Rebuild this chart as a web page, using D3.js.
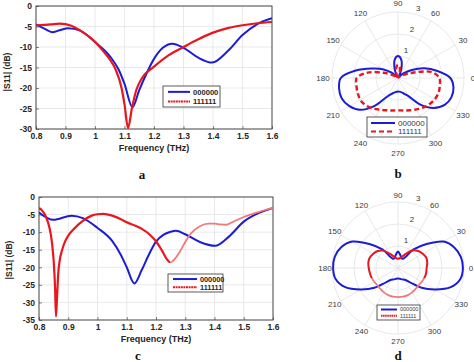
<!DOCTYPE html>
<html><head><meta charset="utf-8">
<script src="https://cdn.jsdelivr.net/npm/d3@7"></script>
<style>body{margin:0;background:#fff} svg{display:block}</style>
</head><body>
<svg id="fig" width="474" height="362"></svg>
<script>
// ---------- data ----------
const xTicks = [0.8, 0.9, 1.0, 1.1, 1.2, 1.3, 1.4, 1.5, 1.6];
const xTickLabels = ["0.8", "0.9", "1", "1.1", "1.2", "1.3", "1.4", "1.5", "1.6"];
const yTicksA = [0, -5, -10, -15, -20, -25, -30];
const yTicksC = [0, -5, -10, -15, -20, -25, -30, -35];
const seriesNames = ["000000", "111111"];

// panel a
const fA_blue = [0.80, 0.83, 0.855, 0.88, 0.91, 0.95, 1.00, 1.05, 1.08, 1.10, 1.127, 1.15, 1.17, 1.20, 1.23, 1.262, 1.30, 1.35, 1.397, 1.45, 1.50, 1.55, 1.60];
const sA_blue = [-4.5, -5.6, -6.4, -5.9, -5.4, -6.0, -8.8, -12.2, -15.5, -19.0, -24.7, -20.5, -17.2, -12.9, -10.2, -9.2, -10.2, -12.6, -13.8, -11.0, -7.1, -4.4, -3.0];
const fA_red = [0.80, 0.85, 0.88, 0.92, 0.95, 1.00, 1.03, 1.05, 1.07, 1.09, 1.10, 1.112, 1.125, 1.14, 1.16, 1.20, 1.25, 1.30, 1.35, 1.40, 1.45, 1.50, 1.55, 1.60];
const sA_red = [-4.7, -4.5, -4.3, -4.8, -6.0, -8.7, -11.2, -13.0, -15.5, -20.0, -24.0, -29.8, -25.0, -20.5, -17.5, -14.8, -12.0, -10.0, -8.1, -6.5, -5.4, -4.7, -4.2, -3.9];

// panel c
const fC_blue = [0.80, 0.849, 0.911, 0.95, 1.00, 1.05, 1.08, 1.10, 1.126, 1.15, 1.175, 1.20, 1.225, 1.25, 1.268, 1.30, 1.35, 1.402, 1.45, 1.50, 1.55, 1.60];
const sC_blue = [-4.4, -6.5, -5.3, -6.0, -8.8, -12.5, -16.5, -20.0, -24.6, -21.0, -16.5, -12.7, -10.8, -9.9, -9.6, -10.6, -12.8, -13.9, -11.2, -7.0, -4.6, -3.1];
const fC_red = [0.80, 0.81, 0.82, 0.83, 0.84, 0.845, 0.85, 0.855, 0.858, 0.862, 0.866, 0.87, 0.88, 0.89, 0.90, 0.92, 0.95, 0.98, 1.00, 1.02, 1.05, 1.08, 1.10, 1.13, 1.15, 1.18, 1.20, 1.22, 1.24, 1.25, 1.26, 1.28, 1.30, 1.32, 1.35, 1.38, 1.40, 1.42, 1.44, 1.46, 1.50, 1.55, 1.60];
const sC_red = [-3.1, -3.8, -5.0, -7.0, -10.5, -13.5, -18.0, -26.0, -34.0, -28.0, -21.5, -18.5, -14.8, -12.5, -11.0, -9.0, -6.8, -5.3, -4.9, -4.8, -5.3, -6.3, -7.2, -8.2, -9.0, -10.8, -12.6, -15.2, -18.0, -18.6, -18.0, -15.8, -12.8, -10.3, -8.3, -7.6, -7.6, -7.8, -7.9, -7.2, -5.7, -4.3, -3.1];

// polar patterns, angles 0..350 deg step 10
const polarAngles = d3.range(0, 360, 10);
const rTicks = [1, 2, 3];
const angleTicks = [0, 30, 60, 90, 120, 150, 180, 210, 240, 270, 300, 330];
const rB_blue = [2.38, 1.82, 1.28, 0.72, 0.32, 0.08, 0.12, 0.45, 0.85, 1.0, 0.85, 0.45, 0.12, 0.08, 0.38, 0.8, 1.25, 1.95, 2.6, 2.72, 2.72, 2.55, 2.25, 1.65, 0.97, 0.75, 0.65, 0.61, 0.64, 0.75, 0.95, 1.58, 2.12, 2.45, 2.58, 2.56];
const rB_red = [1.88, 1.55, 0.7, 0.25, 0.08, 0.03, 0.06, 0.2, 0.48, 0.6, 0.48, 0.2, 0.06, 0.03, 0.08, 0.25, 0.7, 1.4, 1.88, 1.92, 1.95, 1.98, 1.92, 1.8, 1.66, 1.56, 1.5, 1.47, 1.5, 1.56, 1.65, 1.76, 1.86, 1.93, 1.96, 1.93];
const rD_blue = [2.95, 2.9, 2.72, 2.4, 1.7, 1.1, 0.5, 0.47, 0.6, 0.75, 0.6, 0.47, 0.5, 1.1, 1.7, 2.4, 2.75, 2.92, 2.95, 2.88, 2.55, 1.95, 1.4, 0.85, 0.62, 0.55, 0.5, 0.48, 0.5, 0.55, 0.62, 0.85, 1.4, 1.95, 2.55, 2.88];
const rD_red = [1.3, 1.35, 1.37, 1.3, 1.2, 1.05, 0.75, 0.55, 0.45, 0.42, 0.45, 0.55, 0.75, 1.03, 1.2, 1.3, 1.37, 1.37, 1.33, 1.3, 1.28, 1.25, 1.22, 1.24, 1.28, 1.31, 1.32, 1.32, 1.32, 1.31, 1.28, 1.24, 1.22, 1.25, 1.28, 1.3];

// ---------- style ----------
const BLUE = "#1c1cd6", RED = "#e8161e", PINK = "#f07a7a";
const svg = d3.select("#fig");
const FONT = "'Liberation Sans', Arial, sans-serif";

function lineChart(o) {
  const x = d3.scaleLinear().domain([0.8, 1.6]).range([o.x0, o.x1]);
  const y = d3.scaleLinear().domain([o.ymin, 0]).range([o.y1, o.y0]);
  const g = svg.append("g");
  g.append("g").selectAll("line").data(xTicks).join("line")
    .attr("x1", d => x(d)).attr("x2", d => x(d)).attr("y1", o.y0).attr("y2", o.y1)
    .attr("stroke", "#e3e3e3").attr("stroke-width", 0.8);
  g.append("g").selectAll("line").data(o.yTicks).join("line")
    .attr("y1", d => y(d)).attr("y2", d => y(d)).attr("x1", o.x0).attr("x2", o.x1)
    .attr("stroke", "#e3e3e3").attr("stroke-width", 0.8);
  const ax = g.append("g").attr("transform", `translate(0,${o.y1})`)
    .call(d3.axisBottom(x).tickValues(xTicks).tickFormat((d, i) => xTickLabels[i]).tickSizeInner(-3).tickSizeOuter(0).tickPadding(4));
  const ay = g.append("g").attr("transform", `translate(${o.x0},0)`)
    .call(d3.axisLeft(y).tickValues(o.yTicks).tickFormat(d => d3.format("d")(d).replace("−", "-")).tickSizeInner(-3).tickSizeOuter(0).tickPadding(4));
  [ax, ay].forEach(a => {
    a.select(".domain").remove();
    a.selectAll("line").attr("stroke", "#333").attr("stroke-width", 0.6);
    a.selectAll("text").attr("font-family", FONT).attr("font-weight", "bold").attr("font-size", 8.5).attr("fill", "#262626");
  });
  g.append("rect").attr("x", o.x0).attr("y", o.y0).attr("width", o.x1 - o.x0).attr("height", o.y1 - o.y0)
    .attr("fill", "none").attr("stroke", "#3a3a3a").attr("stroke-width", 0.9);
  const cid = "clip" + o.id;
  svg.append("clipPath").attr("id", cid).append("rect").attr("x", o.x0).attr("y", o.y0 - 2).attr("width", o.x1 - o.x0).attr("height", o.y1 - o.y0 + 2);
  const line = d3.line().x(d => x(d[0])).y(d => y(d[1])).curve(d3.curveMonotoneX);
  const plot = g.append("g").attr("clip-path", `url(#${cid})`);
  plot.append("path").datum(d3.zip(o.fb, o.sb)).attr("d", line).attr("fill", "none").attr("stroke", BLUE).attr("stroke-width", 2);
  const redData = d3.zip(o.fr, o.sr);
  if (o.pinkFrom) {
    const xs = x(o.pinkFrom);
    svg.append("clipPath").attr("id", cid + "r1").append("rect").attr("x", 0).attr("y", 0).attr("width", xs).attr("height", 362);
    svg.append("clipPath").attr("id", cid + "r2").append("rect").attr("x", xs).attr("y", 0).attr("width", 474 - xs).attr("height", 362);
    plot.append("g").attr("clip-path", `url(#${cid}r1)`).append("path").datum(redData).attr("d", line)
      .attr("fill", "none").attr("stroke", RED).attr("stroke-width", 2.2);
    plot.append("g").attr("clip-path", `url(#${cid}r2)`).append("path").datum(redData).attr("d", line)
      .attr("fill", "none").attr("stroke", PINK).attr("stroke-width", 1.8);
  } else {
    plot.append("path").datum(redData).attr("d", line).attr("fill", "none").attr("stroke", RED).attr("stroke-width", 2.2);
  }
  svg.append("text").attr("x", (o.x0 + o.x1) / 2).attr("y", o.y1 + 22).attr("text-anchor", "middle")
    .attr("font-family", FONT).attr("font-weight", "bold").attr("font-size", 9).attr("fill", "#262626").text("Frequency (THz)");
  svg.append("text").attr("transform", `translate(${o.ylx},${o.yly}) rotate(-90)`).attr("text-anchor", "middle")
    .attr("font-family", FONT).attr("font-weight", "bold").attr("font-size", 8.5).attr("fill", "#262626").text("|S11| (dB)");
  const L = o.leg;
  svg.append("rect").attr("x", L.x).attr("y", L.y).attr("width", L.w).attr("height", L.h)
    .attr("fill", "#fff").attr("stroke", "#333").attr("stroke-width", 0.8);
  const rows = [[BLUE, 2, null], [RED, 2, "2,0.6"]];
  rows.forEach((r, i) => {
    const yy = L.y + L.h * (i === 0 ? 0.28 : 0.74);
    svg.append("line").attr("x1", L.x + 5).attr("x2", L.x + 5 + L.lw).attr("y1", yy).attr("y2", yy)
      .attr("stroke", r[0]).attr("stroke-width", r[1]).attr("stroke-dasharray", r[2]);
    svg.append("text").attr("x", L.x + 8 + L.lw).attr("y", yy).attr("dy", "0.35em")
      .attr("font-family", FONT).attr("font-weight", "bold").attr("font-size", L.fs).attr("fill", "#262626").text(seriesNames[i]);
  });
  svg.append("text").attr("x", o.subx).attr("y", o.suby).attr("text-anchor", "middle")
    .attr("font-family", "'Liberation Serif', 'Times New Roman', serif").attr("font-weight", "bold").attr("font-size", 13).attr("fill", "#111").text(o.sub);
}

lineChart({id: "a", x0: 36, x1: 272, y0: 6, y1: 129, ymin: -30, yTicks: yTicksA,
  fb: fA_blue, sb: sA_blue, fr: fA_red, sr: sA_red, ylx: 10, yly: 72,
  leg: {x: 163, y: 86, w: 57, h: 21, lw: 22, fs: 7.6}, sub: "a", subx: 142, suby: 179});
lineChart({id: "c", x0: 39, x1: 273, y0: 197, y1: 320, ymin: -35, yTicks: yTicksC,
  fb: fC_blue, sb: sC_blue, fr: fC_red, sr: sC_red, ylx: 12, yly: 260, pinkFrom: 1.248,
  leg: {x: 168, y: 274, w: 55, h: 18, lw: 24, fs: 7.3}, sub: "c", subx: 138, suby: 360});

function polar(o) {
  const R = 22;
  const g = svg.append("g").attr("transform", `translate(${o.cx},${o.cy})`);
  const gridC = "#e2e2e2";
  rTicks.forEach(r => g.append("circle").attr("r", r * R).attr("fill", "none").attr("stroke", gridC).attr("stroke-width", 0.8));
  angleTicks.forEach(a => {
    const t = a * Math.PI / 180;
    g.append("line").attr("x1", 0).attr("y1", 0).attr("x2", 3 * R * Math.cos(t)).attr("y2", -3 * R * Math.sin(t))
      .attr("stroke", gridC).attr("stroke-width", 0.8);
    g.append("text").attr("x", o.lr * Math.cos(t)).attr("y", -o.lr * Math.sin(t)).attr("dy", "0.35em").attr("text-anchor", "middle")
      .attr("font-family", FONT).attr("font-size", 8).attr("fill", "#3a3a3a").text(a);
  });
  rTicks.forEach(r => {
    const t = 74 * Math.PI / 180, d = r * R + 7;
    g.append("text").attr("x", d * Math.cos(t)).attr("y", -d * Math.sin(t)).attr("dy", "0.35em").attr("text-anchor", "middle")
      .attr("font-family", FONT).attr("font-size", 8).attr("fill", "#3a3a3a").text(r);
  });
  const rad = d3.lineRadial().angle(d => (90 - d[0]) * Math.PI / 180).radius(d => d[1] * R).curve(d3.curveCatmullRomClosed.alpha(0.5));
  g.append("path").datum(d3.zip(polarAngles, o.blue)).attr("d", rad).attr("fill", "none").attr("stroke", BLUE).attr("stroke-width", 2);
  const redD = d3.zip(polarAngles, o.red);
  if (o.pinkBelow != null) {
    const id = "pc" + o.sub;
    svg.append("clipPath").attr("id", id + "1").append("rect").attr("x", -100).attr("y", -100).attr("width", 200).attr("height", 100 + o.pinkBelow);
    svg.append("clipPath").attr("id", id + "2").append("rect").attr("x", -100).attr("y", o.pinkBelow).attr("width", 200).attr("height", 100);
    g.append("g").attr("clip-path", `url(#${id}1)`).append("path").datum(redD).attr("d", rad).attr("fill", "none")
      .attr("stroke", RED).attr("stroke-width", 2).attr("stroke-dasharray", o.dash);
    g.append("g").attr("clip-path", `url(#${id}2)`).append("path").datum(redD).attr("d", rad).attr("fill", "none")
      .attr("stroke", PINK).attr("stroke-width", 1.8).attr("stroke-dasharray", o.dash);
  } else {
    g.append("path").datum(redD).attr("d", rad).attr("fill", "none").attr("stroke", RED).attr("stroke-width", 2.4).attr("stroke-dasharray", o.dash);
  }
  const L = o.leg;
  svg.append("rect").attr("x", L.x).attr("y", L.y).attr("width", L.w).attr("height", L.h)
    .attr("fill", "#fff").attr("stroke", "#333").attr("stroke-width", 0.8);
  [[BLUE, null, 2], [RED, o.legDash, 2]].forEach((r, i) => {
    const yy = L.y + L.h * (i === 0 ? 0.3 : 0.72);
    svg.append("line").attr("x1", L.x + 4).attr("x2", L.x + 4 + L.lw).attr("y1", yy).attr("y2", yy)
      .attr("stroke", r[0]).attr("stroke-width", r[2]).attr("stroke-dasharray", r[1]);
    svg.append("text").attr("x", L.x + 7 + L.lw).attr("y", yy).attr("dy", "0.35em")
      .attr("font-family", FONT).attr("font-size", L.fs).attr("fill", "#3a3a3a").text(seriesNames[i]);
  });
  svg.append("text").attr("x", o.cx).attr("y", o.suby).attr("text-anchor", "middle")
    .attr("font-family", "'Liberation Serif', 'Times New Roman', serif").attr("font-weight", "bold").attr("font-size", 13).attr("fill", "#111").text(o.sub);
}

polar({cx: 398, cy: 78, lr: 75, blue: rB_blue, red: rB_red, dash: "5,3", legDash: "5,3", sub: "b", suby: 178,
  leg: {x: 367, y: 117, w: 60, h: 20, lw: 24, fs: 8}});
polar({cx: 398, cy: 268, lr: 73, blue: rD_blue, red: rD_red, dash: null, legDash: "1.5,0.6", sub: "d", suby: 360, pinkBelow: 10,
  leg: {x: 377, y: 305, w: 43, h: 15, lw: 16, fs: 5.5}});
</script>
</body></html>
